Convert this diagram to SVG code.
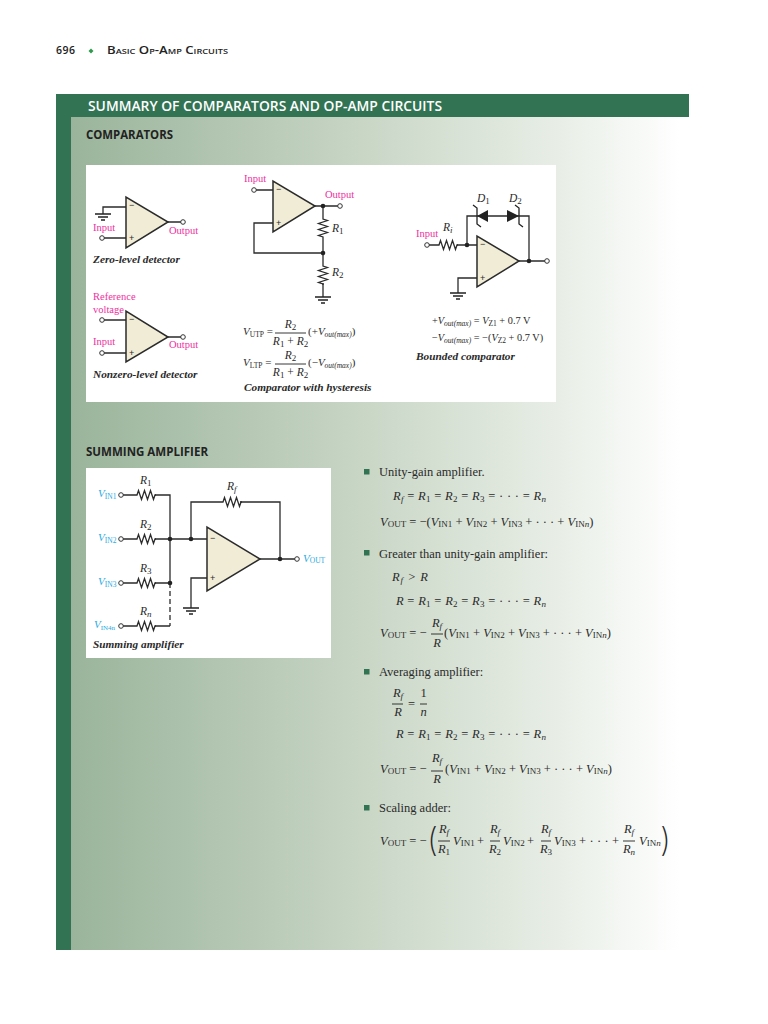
<svg xmlns="http://www.w3.org/2000/svg" width="768" height="1024" viewBox="0 0 768 1024">
<style>
text{font-family:"Liberation Serif","Times New Roman",serif;fill:#2a2a2a;font-size:12.5px}
.i{font-style:italic}
.s{font-size:9px}
.si{font-size:9px;font-style:italic}
.x{font-size:7.5px}
.xi{font-size:7.5px;font-style:italic}
.m{fill:#ee2fa0;font-size:10.5px}
.c{fill:#29abe2}
.cap{font-weight:bold;font-style:italic;font-size:11.3px}
.h{font-family:"Open Sans",sans-serif;font-weight:700}
.t{font-size:11.5px}
.u{font-size:11px}
.w{fill:none;stroke:#2b2b2b;stroke-width:1.3}
.o{fill:#f1ecd6;stroke:#2b2b2b;stroke-width:1.5}
.d{fill:#222}
.p{fill:#fff;stroke:#333;stroke-width:1}
.b{stroke:#222;stroke-width:.9}
.g{fill:none;stroke:#222;stroke-width:1.3}
.pm{font-size:9px;font-family:"Liberation Sans",sans-serif}
.par{font-family:"Inter",sans-serif;font-weight:200;font-size:33px}
</style>
<defs>
<linearGradient id="bg" x1="71" x2="680" y1="0" y2="0" gradientUnits="userSpaceOnUse">
<stop offset="0" stop-color="#9ab49b"/><stop offset=".45" stop-color="#c6d4c3"/><stop offset=".8" stop-color="#e8eee6"/><stop offset="1" stop-color="#fff"/>
</linearGradient>
<path id="r" class="w" d="M0 0h1l1.500-4.500 3 9 3-9 3 9 3-9 3 9 1.500-4.500h1"/>
<path id="gnd" class="g" d="M-8 0H8M-5 3H5M-2 6H2"/>
</defs>
<rect width="768" height="1024" fill="#fff"/>
<g id="page-header">
<text x="56" y="54" class="h" style="font-size:10.5px;fill:#222;font-weight:600" textLength="19" lengthAdjust="spacing">696</text>
<path d="M91 48.500l2.500 2.500-2.500 2.500-2.500-2.500z" fill="#2e9a4e"/>
<text x="107" y="54" class="h" style="font-size:10px;fill:#222;font-weight:600;font-variant:small-caps" textLength="121" lengthAdjust="spacingAndGlyphs">Basic Op-Amp Circuits</text>
</g>
<g id="panel">
<rect x="56" y="94" width="633" height="856" fill="#327353"/>
<rect x="71" y="117" width="618" height="833" fill="url(#bg)"/>
<text x="88" y="111" class="h" style="font-size:14px;fill:#fff;font-weight:600" textLength="354" lengthAdjust="spacingAndGlyphs">SUMMARY OF COMPARATORS AND OP-AMP CIRCUITS</text>
<text x="86" y="139" class="h" style="font-size:11.500px;fill:#222;font-weight:700" textLength="87" lengthAdjust="spacingAndGlyphs">COMPARATORS</text>
<text x="86" y="456" class="h" style="font-size:11.500px;fill:#222;font-weight:700" textLength="122" lengthAdjust="spacingAndGlyphs">SUMMING AMPLIFIER</text>
<rect x="86" y="165" width="470" height="237" fill="#fff"/>
<rect x="86" y="468" width="245" height="190" fill="#fff"/>
</g>
<g id="connectors">
<path class="w" d="M126 207H103V214M102 238H126M168 222H183"/>
<path class="w" d="M102 320H126M102 353H126M168 337H183"/>
<path class="w" d="M254 190H273M273 223H254V253H323M315 206H340M323 206V218M323 238V265M323 283V297"/>
<path class="w" d="M427 245H438M457 245H477M467 245V216H529V261M519 261H547M477 278H458V293"/>
<path class="w" d="M121 495H136M155 495H170V583M121 539H136M155 539H207M121 583H136M155 583H170M121 626H136M155 626H170"/>
<path class="w" stroke-dasharray="5 3" d="M170 583V626"/>
<path class="w" d="M191 539V502H222M240 502H280V559M260 559H297M207 578H191V608"/>
</g>
<g id="zero-level-detector">
<path class="o" d="M126 197V248L168 222Z"/><use href="#gnd" x="103" y="214"/>
<circle class="p" cx="102" cy="238" r="2.300"/><circle class="p" cx="183" cy="222" r="2.300"/>
<text x="129" y="208" class="pm">−</text><text x="129" y="241" class="pm">+</text>
<text x="93" y="231" class="m">Input</text><text x="169" y="234" class="m">Output</text>
<text x="93" y="263" class="cap">Zero-level detector</text>
</g>
<g id="nonzero-level-detector">
<path class="o" d="M126 311V362L168 337Z"/>
<circle class="p" cx="102" cy="320" r="2.300"/><circle class="p" cx="102" cy="353" r="2.300"/><circle class="p" cx="183" cy="337" r="2.300"/>
<text x="129" y="322" class="pm">−</text><text x="129" y="356" class="pm">+</text>
<text x="93" y="300" class="m">Reference</text><text x="93" y="313" class="m">voltage</text><text x="93" y="345" class="m">Input</text><text x="169" y="348" class="m">Output</text>
<text x="93" y="378" class="cap">Nonzero-level detector</text>
</g>
<g id="comparator-hysteresis">
<path class="o" d="M273 181V232L315 206Z"/>
<circle class="p" cx="254" cy="190" r="2.300"/><circle class="p" cx="340" cy="206" r="2.300"/>
<circle class="d" cx="323" cy="206" r="2.300"/><circle class="d" cx="323" cy="253" r="2.300"/>
<use href="#r" transform="translate(323 218) rotate(90)"/><use href="#r" transform="translate(323 265) rotate(90)"/>
<use href="#gnd" x="323" y="297"/>
<text x="276" y="192" class="pm">−</text><text x="276" y="226" class="pm">+</text>
<text x="244" y="182" class="m">Input</text><text x="325" y="198" class="m">Output</text>
<text x="332" y="232" class="i t">R<tspan class="s" dy="2" style="font-style:normal">1</tspan></text>
<text x="332" y="276" class="i t">R<tspan class="s" dy="2" style="font-style:normal">2</tspan></text>
<text x="243" y="335" class="u"><tspan class="i">V</tspan><tspan class="x" dy="2">UTP</tspan><tspan dy="-2"> =</tspan></text>
<path class="b" d="M275 333H306"/>
<text x="290.500" y="328" class="i t" text-anchor="middle">R<tspan class="s" dy="2" style="font-style:normal">2</tspan></text>
<text x="290.500" y="345" class="t" text-anchor="middle"><tspan class="i">R</tspan><tspan class="s" dy="2">1</tspan><tspan dy="-2"> + </tspan><tspan class="i">R</tspan><tspan class="s" dy="2">2</tspan></text>
<text x="308" y="335" class="u">(+<tspan class="i">V</tspan><tspan class="xi" dy="2">out(max)</tspan><tspan dy="-2">)</tspan></text>
<text x="243" y="366" class="u"><tspan class="i">V</tspan><tspan class="x" dy="2">LTP</tspan><tspan dy="-2"> =</tspan></text>
<path class="b" d="M275 364H306"/>
<text x="290.500" y="359" class="i t" text-anchor="middle">R<tspan class="s" dy="2" style="font-style:normal">2</tspan></text>
<text x="290.500" y="376" class="t" text-anchor="middle"><tspan class="i">R</tspan><tspan class="s" dy="2">1</tspan><tspan dy="-2"> + </tspan><tspan class="i">R</tspan><tspan class="s" dy="2">2</tspan></text>
<text x="308" y="366" class="u">(−<tspan class="i">V</tspan><tspan class="xi" dy="2">out(max)</tspan><tspan dy="-2">)</tspan></text>
<text x="244" y="391" class="cap">Comparator with hysteresis</text>
</g>
<g id="bounded-comparator">
<path class="o" d="M477 236V287L519 261Z"/>
<use href="#r" x="438" y="245"/>
<circle class="p" cx="427" cy="245" r="2.300"/><circle class="p" cx="547" cy="261" r="2.300"/>
<circle class="d" cx="467" cy="245" r="2.300"/><circle class="d" cx="529" cy="261" r="2.300"/>
<path class="d" d="M477 216L488 210V222Z"/><path class="d" d="M519 216L507 210V222Z"/>
<path class="g" d="M473 205L477 208V224L481 227M515 205L519 208V224L523 227"/>
<use href="#gnd" x="458" y="293"/>
<text x="480" y="247" class="pm">−</text><text x="480" y="281" class="pm">+</text>
<text x="416" y="237" class="m">Input</text>
<text x="443" y="231" class="i t">R<tspan class="s" dy="2">i</tspan></text>
<text x="477" y="202" class="i t">D<tspan class="s" dy="2" style="font-style:normal">1</tspan></text>
<text x="509" y="202" class="i t">D<tspan class="s" dy="2" style="font-style:normal">2</tspan></text>
<text x="432" y="324" style="font-size:10.3px">+<tspan class="i">V</tspan><tspan class="xi" dy="2">out(max)</tspan><tspan dy="-2"> = </tspan><tspan class="i">V</tspan><tspan class="x" dy="2">Z1</tspan><tspan dy="-2"> + 0.7 V</tspan></text>
<text x="432" y="341" style="font-size:10.3px">−<tspan class="i">V</tspan><tspan class="xi" dy="2">out(max)</tspan><tspan dy="-2"> = −(</tspan><tspan class="i">V</tspan><tspan class="x" dy="2">Z2</tspan><tspan dy="-2"> + 0.7 V)</tspan></text>
<text x="416" y="360" class="cap">Bounded comparator</text>
</g>
<g id="summing-amplifier">
<path class="o" d="M207 527V591L260 559Z"/>
<use href="#r" x="136" y="495"/><use href="#r" x="136" y="539"/><use href="#r" x="136" y="583"/><use href="#r" x="136" y="626"/><use href="#r" x="222" y="502"/>
<circle class="p" cx="121" cy="495" r="2.300"/><circle class="p" cx="121" cy="539" r="2.300"/><circle class="p" cx="121" cy="583" r="2.300"/><circle class="p" cx="121" cy="626" r="2.300"/><circle class="p" cx="297" cy="559" r="2.300"/>
<circle class="d" cx="170" cy="539" r="2.300"/><circle class="d" cx="170" cy="583" r="2.300"/><circle class="d" cx="191" cy="539" r="2.300"/><circle class="d" cx="280" cy="559" r="2.300"/>
<use href="#gnd" x="191" y="608"/>
<text x="210" y="541" class="pm">−</text><text x="210" y="581" class="pm">+</text>
<text x="140" y="484" class="i t">R<tspan class="s" dy="2" style="font-style:normal">1</tspan></text>
<text x="140" y="528" class="i t">R<tspan class="s" dy="2" style="font-style:normal">2</tspan></text>
<text x="140" y="572" class="i t">R<tspan class="s" dy="2" style="font-style:normal">3</tspan></text>
<text x="140" y="615" class="i t">R<tspan class="s" dy="2">n</tspan></text>
<text x="227" y="490" class="i t">R<tspan class="s" dy="2">f</tspan></text>
<text x="98" y="497" class="c u"><tspan class="i c">V</tspan><tspan class="x c" dy="2">IN1</tspan></text>
<text x="98" y="541" class="c u"><tspan class="i c">V</tspan><tspan class="x c" dy="2">IN2</tspan></text>
<text x="98" y="585" class="c u"><tspan class="i c">V</tspan><tspan class="x c" dy="2">IN3</tspan></text>
<text x="94" y="628" class="c u"><tspan class="i c">V</tspan><tspan class="x c" dy="2" style="font-size:7px">IN4n</tspan></text>
<text x="303" y="562" class="c u"><tspan class="i c">V</tspan><tspan class="x c" dy="1">OUT</tspan></text>
<text x="93" y="648" class="cap">Summing amplifier</text>
</g>
<g id="unity-gain">
<rect x="364" y="469" width="5.500" height="5.500" fill="#327353"/>
<text x="379" y="476">Unity-gain amplifier.</text>
<text x="393" y="500" textLength="153" lengthAdjust="spacing"><tspan class="i">R</tspan><tspan class="si" dy="2">f</tspan><tspan dy="-2"> = </tspan><tspan class="i">R</tspan><tspan class="s" dy="2">1</tspan><tspan dy="-2"> = </tspan><tspan class="i">R</tspan><tspan class="s" dy="2">2</tspan><tspan dy="-2"> = </tspan><tspan class="i">R</tspan><tspan class="s" dy="2">3</tspan><tspan dy="-2"> = · · · = </tspan><tspan class="i">R</tspan><tspan class="si" dy="2">n</tspan></text>
<text x="380" y="526"><tspan class="i">V</tspan><tspan class="s" dy="1">OUT</tspan><tspan dy="-1"> = −(</tspan><tspan class="i">V</tspan><tspan class="s" dy="1">IN1</tspan><tspan dy="-1"> + </tspan><tspan class="i">V</tspan><tspan class="s" dy="1">IN2</tspan><tspan dy="-1"> + </tspan><tspan class="i">V</tspan><tspan class="s" dy="1">IN3</tspan><tspan dy="-1"> + · · · + </tspan><tspan class="i">V</tspan><tspan class="s" dy="1">IN</tspan><tspan class="si">n</tspan><tspan dy="-1">)</tspan></text>
</g>
<g id="greater-gain">
<rect x="364" y="550" width="5.500" height="5.500" fill="#327353"/>
<text x="379" y="558">Greater than unity-gain amplifier:</text>
<text x="392" y="581" textLength="36" lengthAdjust="spacing"><tspan class="i">R</tspan><tspan class="si" dy="2">f</tspan><tspan dy="-2"> &gt; </tspan><tspan class="i">R</tspan></text>
<text x="396" y="605" textLength="150" lengthAdjust="spacing"><tspan class="i">R</tspan> = <tspan class="i">R</tspan><tspan class="s" dy="2">1</tspan><tspan dy="-2"> = </tspan><tspan class="i">R</tspan><tspan class="s" dy="2">2</tspan><tspan dy="-2"> = </tspan><tspan class="i">R</tspan><tspan class="s" dy="2">3</tspan><tspan dy="-2"> = · · · = </tspan><tspan class="i">R</tspan><tspan class="si" dy="2">n</tspan></text>
<text x="380" y="637"><tspan class="i">V</tspan><tspan class="s" dy="1">OUT</tspan><tspan dy="-1"> = −</tspan></text>
<path class="b" d="M431 634H443"/>
<text x="437" y="627" class="i" text-anchor="middle">R<tspan class="si" dy="2">f</tspan></text>
<text x="437" y="647" class="i" text-anchor="middle">R</text>
<text x="444" y="637">(<tspan class="i">V</tspan><tspan class="s" dy="1">IN1</tspan><tspan dy="-1"> + </tspan><tspan class="i">V</tspan><tspan class="s" dy="1">IN2</tspan><tspan dy="-1"> + </tspan><tspan class="i">V</tspan><tspan class="s" dy="1">IN3</tspan><tspan dy="-1"> + · · · + </tspan><tspan class="i">V</tspan><tspan class="s" dy="1">IN</tspan><tspan class="si">n</tspan><tspan dy="-1">)</tspan></text>
</g>
<g id="averaging">
<rect x="364" y="669" width="5.500" height="5.500" fill="#327353"/>
<text x="379" y="676">Averaging amplifier:</text>
<path class="b" d="M392 704H403M420 704H427"/>
<text x="398" y="697" class="i" text-anchor="middle">R<tspan class="si" dy="2">f</tspan></text>
<text x="398" y="716" class="i" text-anchor="middle">R</text>
<text x="408" y="708">=</text>
<text x="423.500" y="697" text-anchor="middle">1</text>
<text x="423.500" y="716" class="i" text-anchor="middle">n</text>
<text x="396" y="738" textLength="150" lengthAdjust="spacing"><tspan class="i">R</tspan> = <tspan class="i">R</tspan><tspan class="s" dy="2">1</tspan><tspan dy="-2"> = </tspan><tspan class="i">R</tspan><tspan class="s" dy="2">2</tspan><tspan dy="-2"> = </tspan><tspan class="i">R</tspan><tspan class="s" dy="2">3</tspan><tspan dy="-2"> = · · · = </tspan><tspan class="i">R</tspan><tspan class="si" dy="2">n</tspan></text>
<text x="380" y="773"><tspan class="i">V</tspan><tspan class="s" dy="1">OUT</tspan><tspan dy="-1"> = −</tspan></text>
<path class="b" d="M431 771H443"/>
<text x="437" y="762" class="i" text-anchor="middle">R<tspan class="si" dy="2">f</tspan></text>
<text x="437" y="783" class="i" text-anchor="middle">R</text>
<text x="445" y="773">(<tspan class="i">V</tspan><tspan class="s" dy="1">IN1</tspan><tspan dy="-1"> + </tspan><tspan class="i">V</tspan><tspan class="s" dy="1">IN2</tspan><tspan dy="-1"> + </tspan><tspan class="i">V</tspan><tspan class="s" dy="1">IN3</tspan><tspan dy="-1"> + · · · + </tspan><tspan class="i">V</tspan><tspan class="s" dy="1">IN</tspan><tspan class="si">n</tspan><tspan dy="-1">)</tspan></text>
</g>
<g id="scaling-adder">
<rect x="364" y="805" width="5.500" height="5.500" fill="#327353"/>
<text x="379" y="812">Scaling adder:</text>
<text x="380" y="845"><tspan class="i">V</tspan><tspan class="s" dy="1">OUT</tspan><tspan dy="-1"> = −</tspan></text>
<text x="427" y="851" class="par">(</text>
<path class="b" d="M438 841H450M490 841H500M541 841H551M623 841H635"/>
<text x="444" y="833" class="i" text-anchor="middle">R<tspan class="si" dy="2">f</tspan></text><text x="444" y="853" class="i" text-anchor="middle">R<tspan class="s" dy="2" style="font-style:normal">1</tspan></text>
<text x="495" y="833" class="i" text-anchor="middle">R<tspan class="si" dy="2">f</tspan></text><text x="495" y="853" class="i" text-anchor="middle">R<tspan class="s" dy="2" style="font-style:normal">2</tspan></text>
<text x="546" y="833" class="i" text-anchor="middle">R<tspan class="si" dy="2">f</tspan></text><text x="546" y="853" class="i" text-anchor="middle">R<tspan class="s" dy="2" style="font-style:normal">3</tspan></text>
<text x="629" y="833" class="i" text-anchor="middle">R<tspan class="si" dy="2">f</tspan></text><text x="629" y="853" class="i" text-anchor="middle">R<tspan class="si" dy="2">n</tspan></text>
<text x="453" y="845"><tspan class="i">V</tspan><tspan class="s" dy="1">IN1</tspan></text>
<text x="477" y="845">+</text>
<text x="503" y="845"><tspan class="i">V</tspan><tspan class="s" dy="1">IN2</tspan></text>
<text x="527" y="845">+</text>
<text x="554" y="845"><tspan class="i">V</tspan><tspan class="s" dy="1">IN3</tspan></text>
<text x="579" y="845" textLength="40" lengthAdjust="spacing">+ · · · +</text>
<text x="639" y="845"><tspan class="i">V</tspan><tspan class="s" dy="1">IN</tspan><tspan class="si">n</tspan></text>
<text x="660" y="851" class="par">)</text>
</g>
</svg>
